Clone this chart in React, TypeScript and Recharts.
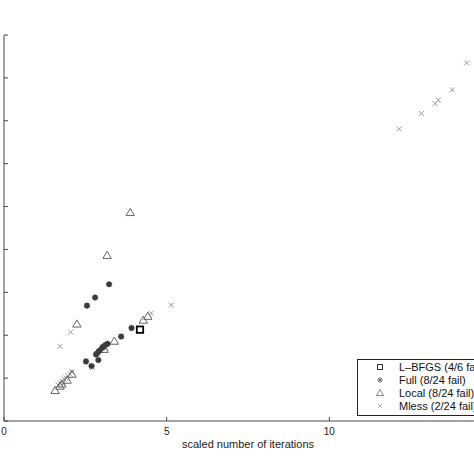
import React from "react";
import { ScatterChart, Scatter, XAxis, YAxis, Legend } from "recharts";

const xTicks = [0, 5, 10];
const yTicks = [0, 1, 2, 3, 4, 5, 6, 7, 8, 9];

const lbfgsX = [4.18];
const lbfgsY = [2.13];

const fullX = [3.23, 2.8, 2.55, 2.52, 2.69, 2.9, 2.86, 2.91, 2.95, 3.02, 3.11, 3.18, 3.6, 3.92, 2.83, 3.05];
const fullY = [3.19, 2.88, 2.69, 1.39, 1.28, 1.42, 1.58, 1.62, 1.65, 1.71, 1.77, 1.8, 1.97, 2.17, 1.55, 1.73];

const localX = [3.88, 3.17, 2.24, 1.57, 3.39, 4.28, 4.42, 3.08, 1.78, 1.94, 2.09, 1.72];
const localY = [4.86, 3.86, 2.26, 0.71, 1.86, 2.35, 2.44, 1.67, 0.86, 0.95, 1.09, 0.81];

const mlessX = [14.22, 13.78, 13.35, 13.25, 12.83, 12.15, 5.14, 4.52, 2.05, 1.72, 3.6, 3.13, 2.72, 1.66, 1.72, 1.78, 1.85, 1.91, 1.97, 2.03, 2.09, 1.82];
const mlessY = [8.35, 7.72, 7.48, 7.4, 7.17, 6.81, 2.7, 2.51, 2.07, 1.74, 1.98, 1.71, 1.25, 0.84, 0.88, 0.93, 0.98, 1.0, 1.05, 1.09, 1.14, 0.86];

const legendLabels = ["L\u2013BFGS (4/6 fail)", "Full (8/24 fail)", "Local (8/24 fail)", "Mless (2/24 fail)"];

const zip = (xs: number[], ys: number[]) => xs.map((x, i) => ({ x, y: ys[i] }));
const lbfgs = zip(lbfgsX, lbfgsY);
const full = zip(fullX, fullY);
const local = zip(localX, localY);
const mless = zip(mlessX, mlessY);

const FONT = "'Liberation Sans', Arial, Helvetica, sans-serif";

const SquareShape = (p: any) => (
  <rect x={p.cx - 3.2} y={p.cy - 3.2} width={6.4} height={6.4} fill="none" stroke="#000" strokeWidth={1.8} />
);
const FullShape = (p: any) => (
  <g>
    <circle cx={p.cx} cy={p.cy} r={2.8} fill="#3c3c3c" />
    <path
      d={`M${p.cx - 3.2} ${p.cy}H${p.cx + 3.2}M${p.cx} ${p.cy - 3.2}V${p.cy + 3.2}M${p.cx - 2.3} ${p.cy - 2.3}L${p.cx + 2.3} ${p.cy + 2.3}M${p.cx - 2.3} ${p.cy + 2.3}L${p.cx + 2.3} ${p.cy - 2.3}`}
      stroke="#3c3c3c"
      strokeWidth={0.8}
    />
  </g>
);
const TriShape = (p: any) => (
  <polygon
    points={`${p.cx},${p.cy - 4.2} ${p.cx - 4.2},${p.cy + 3} ${p.cx + 4.2},${p.cy + 3}`}
    fill="none"
    stroke="#666"
    strokeWidth={1}
  />
);
const XShape = (p: any) => (
  <path
    d={`M${p.cx - 2.5} ${p.cy - 2.5}L${p.cx + 2.5} ${p.cy + 2.5}M${p.cx - 2.5} ${p.cy + 2.5}L${p.cx + 2.5} ${p.cy - 2.5}`}
    stroke="#999"
    strokeWidth={1}
  />
);

const LegendBox = () => {
  const rowY = [8, 21, 34, 47];
  return (
    <div
      style={{
        width: 145,
        height: 57,
        border: "1px solid #222",
        background: "#fff",
        boxSizing: "border-box",
        position: "relative",
        fontFamily: FONT,
      }}
    >
      <svg width={145} height={57} style={{ position: "absolute", left: -1, top: -1 }}>
        <rect x={20.5} y={rowY[0] - 2.5} width={5} height={5} fill="none" stroke="#333" strokeWidth={1} />
        <g stroke="#666" strokeWidth={0.9}>
          <path d={`M20 ${rowY[1]}H26M23 ${rowY[1] - 3}V${rowY[1] + 3}M20.9 ${rowY[1] - 2.1}L25.1 ${rowY[1] + 2.1}M20.9 ${rowY[1] + 2.1}L25.1 ${rowY[1] - 2.1}`} />
        </g>
        <polygon points={`23,${rowY[2] - 3.5} 19.3,${rowY[2] + 2.6} 26.7,${rowY[2] + 2.6}`} fill="none" stroke="#777" strokeWidth={0.9} />
        <path d={`M21 ${rowY[3] - 2}L25 ${rowY[3] + 2}M21 ${rowY[3] + 2}L25 ${rowY[3] - 2}`} stroke="#aaa" strokeWidth={0.9} />
        {legendLabels.map((t, i) => (
          <text key={t} x={42} y={rowY[i] + 4} fontSize={11} fill="#111" fontFamily={FONT}>
            {t}
          </text>
        ))}
      </svg>
    </div>
  );
};

const NoTick = () => <g />;

export default function App() {
  return (
    <div style={{ position: "absolute", left: 0, top: 0, width: 474, height: 474, overflow: "hidden", background: "#fff" }}>
      <div style={{ position: "absolute", left: -36, top: 0 }}>
        <ScatterChart width={538} height={474} margin={{ top: 35, right: 10, bottom: 13, left: 0 }} style={{ fontFamily: FONT }}>
          <XAxis
            type="number"
            dataKey="x"
            domain={[0, 15]}
            ticks={xTicks}
            interval={0}
            tickSize={-4}
            tickMargin={11}
            height={40}
            axisLine={{ stroke: "#444" }}
            tickLine={{ stroke: "#444" }}
            tick={{ fontSize: 10, fill: "#222", fontFamily: FONT }}
            label={{ value: "scaled number of iterations", position: "insideBottom", offset: 13, fontSize: 11, fill: "#222", fontFamily: FONT }}
          />
          <YAxis
            type="number"
            dataKey="y"
            domain={[0, 9]}
            ticks={yTicks}
            interval={0}
            tickSize={-4}
            width={40}
            tick={NoTick}
            axisLine={{ stroke: "#444" }}
            tickLine={{ stroke: "#444" }}
          />
          <Legend
            layout="vertical"
            align="center"
            verticalAlign="middle"
            content={() => <LegendBox />}
            wrapperStyle={{ left: 393, top: 359, width: 145, height: 57 }}
          />
          <Scatter name={legendLabels[3]} data={mless} shape={XShape} isAnimationActive={false} />
          <Scatter name={legendLabels[2]} data={local} shape={TriShape} isAnimationActive={false} />
          <Scatter name={legendLabels[1]} data={full} shape={FullShape} isAnimationActive={false} />
          <Scatter name={legendLabels[0]} data={lbfgs} shape={SquareShape} isAnimationActive={false} />
        </ScatterChart>
      </div>
    </div>
  );
}
